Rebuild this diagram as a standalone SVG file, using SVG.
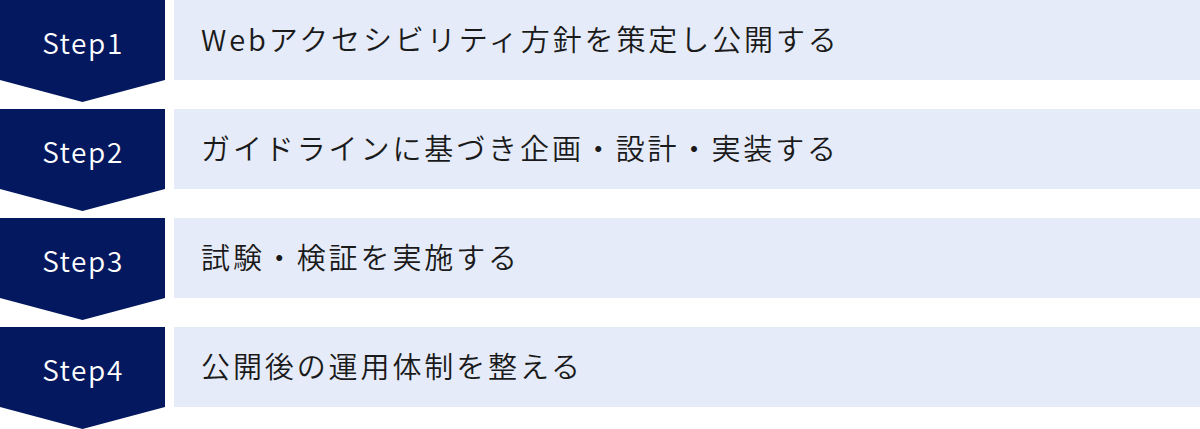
<svg xmlns="http://www.w3.org/2000/svg" width="1200" height="429" viewBox="0 0 1200 429">
<defs>
<style>
.chev{fill:#04185F;}
.box{fill:#E5EBF8;}
.step{font-family:"Noto Sans CJK JP","Noto Sans",sans-serif;font-size:28px;font-weight:350;letter-spacing:1.6px;fill:#FFFFFF;text-anchor:middle;}
.label{font-family:"Noto Sans CJK JP","Noto Sans",sans-serif;font-size:29px;font-weight:350;letter-spacing:2.9px;fill:#1A1A1A;}
</style>
<polygon id="chevShape" points="0,0 165,0 165,80 82.5,102 0,80"/>
</defs>
<rect width="1200" height="429" fill="#FFFFFF"/>
<g id="connectors"></g>
<g id="step1" transform="translate(0,0)">
<use href="#chevShape" class="chev"/>
<rect class="box" x="174" y="0" width="1026" height="80"/>
<text class="step" x="83" y="54">Step1</text>
<text class="label" x="201" y="51">Webアクセシビリティ方針を策定し公開する</text>
</g>
<g id="step2" transform="translate(0,109)">
<use href="#chevShape" class="chev"/>
<rect class="box" x="174" y="0" width="1026" height="80"/>
<text class="step" x="83" y="54">Step2</text>
<text class="label" x="201" y="51">ガイドラインに基づき企画・設計・実装する</text>
</g>
<g id="step3" transform="translate(0,218)">
<use href="#chevShape" class="chev"/>
<rect class="box" x="174" y="0" width="1026" height="80"/>
<text class="step" x="83" y="54">Step3</text>
<text class="label" x="201" y="51">試験・検証を実施する</text>
</g>
<g id="step4" transform="translate(0,327)">
<use href="#chevShape" class="chev"/>
<rect class="box" x="174" y="0" width="1026" height="80"/>
<text class="step" x="83" y="54">Step4</text>
<text class="label" x="201" y="51">公開後の運用体制を整える</text>
</g>
</svg>
